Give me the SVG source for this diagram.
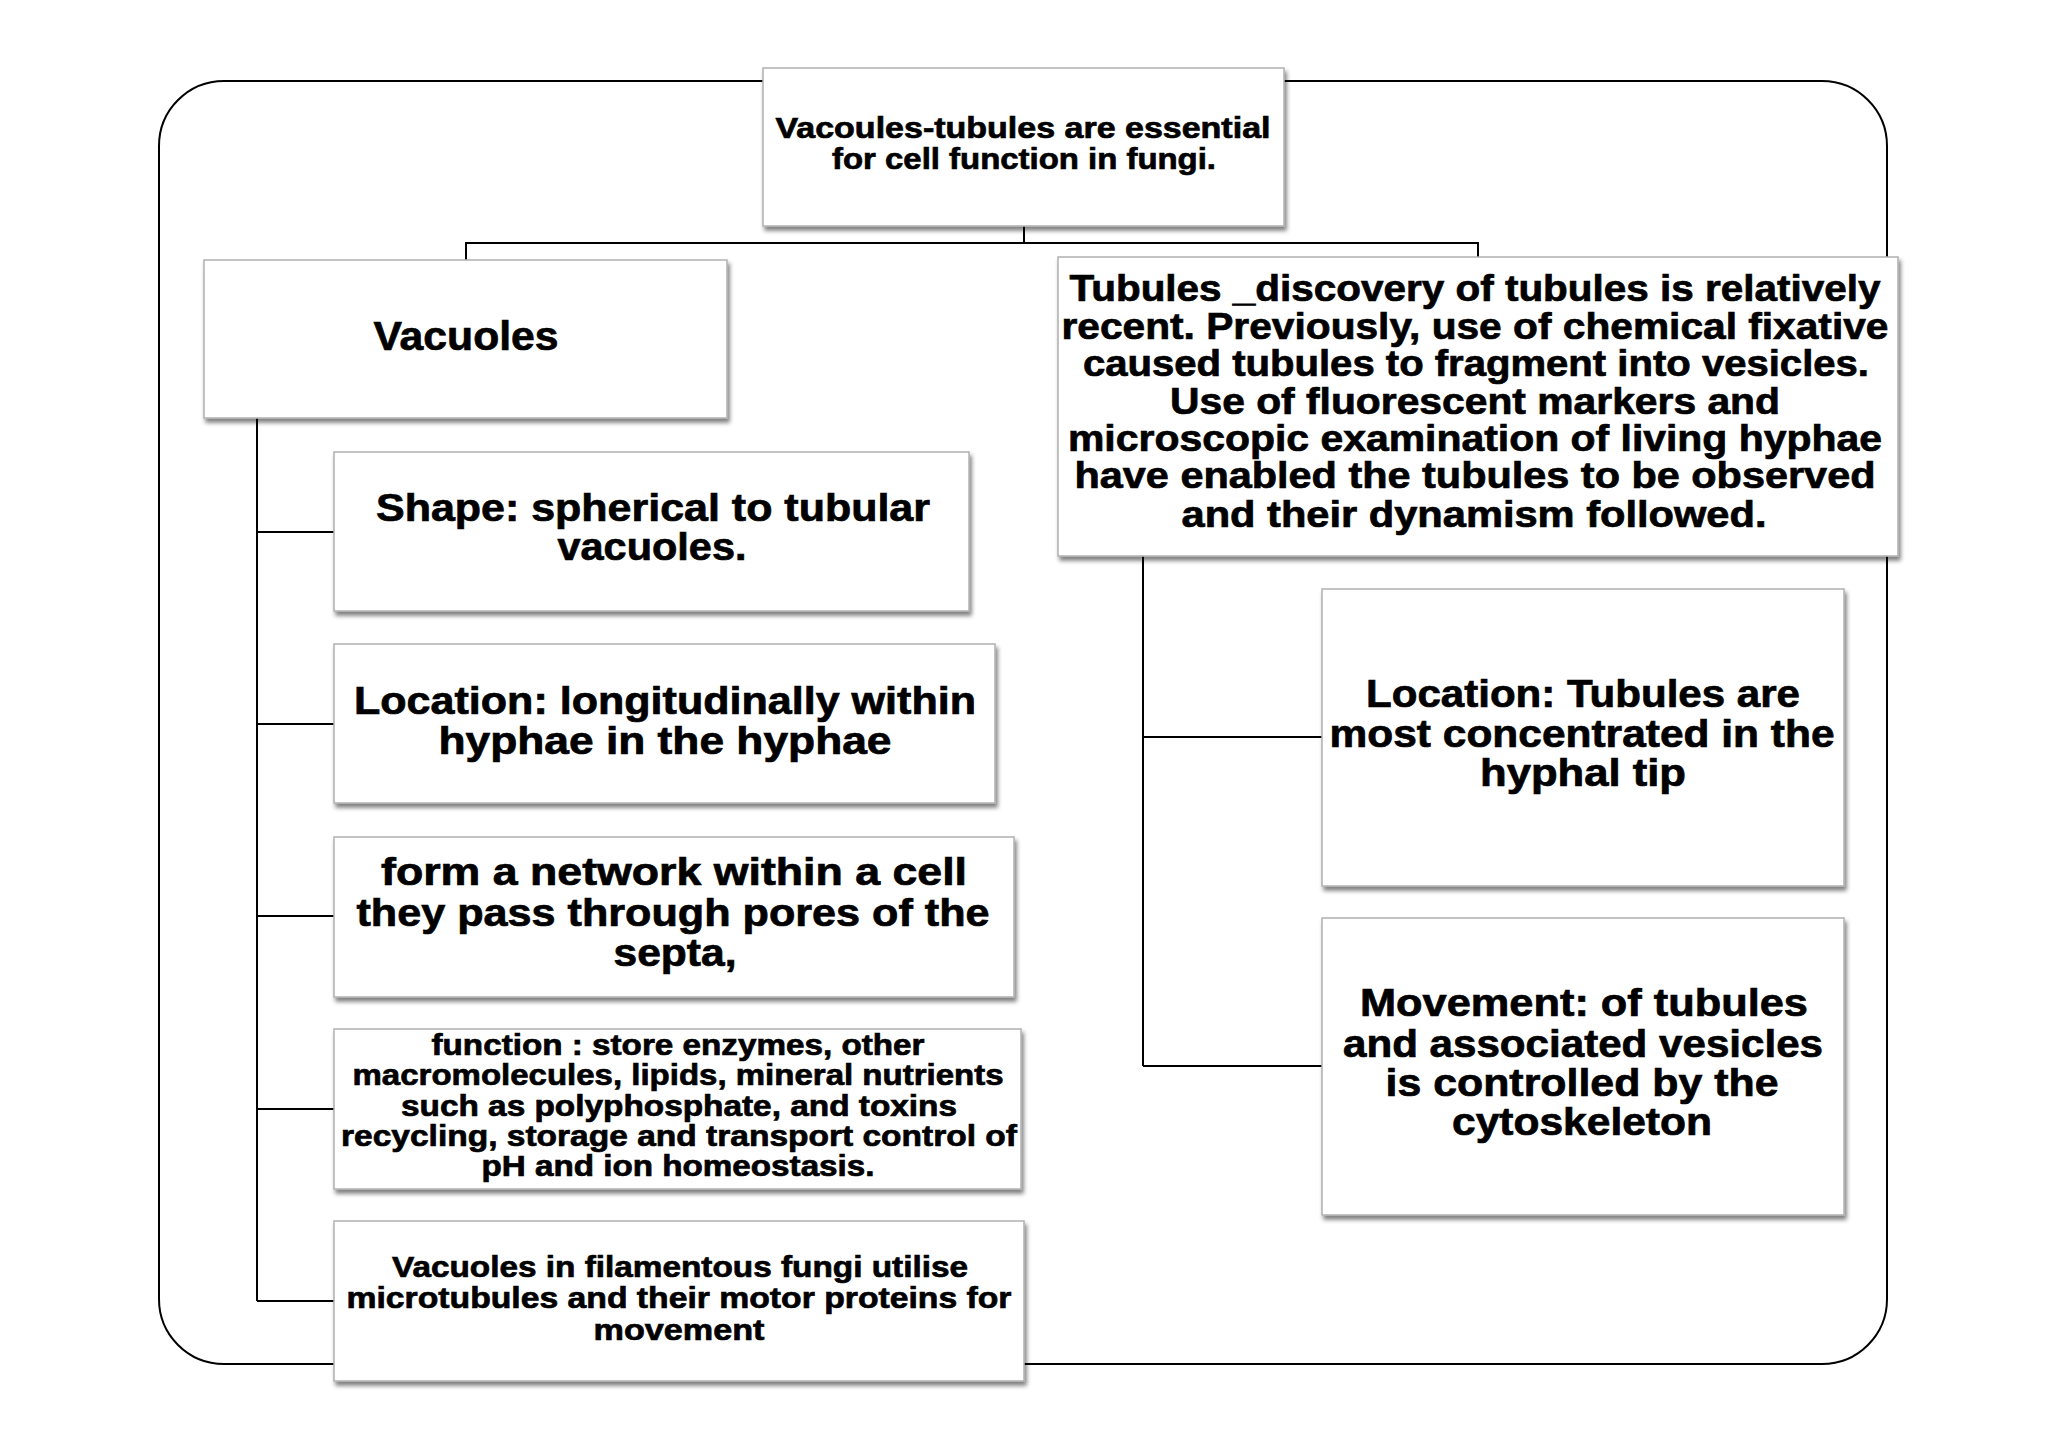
<svg xmlns="http://www.w3.org/2000/svg" width="2048" height="1448" viewBox="0 0 2048 1448">
<defs>
<filter id="sh" x="-5%" y="-5%" width="110%" height="120%">
<feDropShadow dx="2" dy="4" stdDeviation="2" flood-color="#000" flood-opacity="0.5"/>
</filter>
</defs>
<style>
.box{fill:#fff;stroke:#b0b0b0;stroke-width:1.5;filter:url(#sh)}
.ln{fill:none;stroke:#000;stroke-width:2}
text{font-family:"Liberation Sans",Arial,sans-serif;font-weight:bold;fill:#000;stroke:#000;stroke-width:0.7;text-anchor:middle}
</style>
<rect width="2048" height="1448" fill="#fff"/>
<rect x="159" y="81" width="1728" height="1283" rx="65" ry="65" class="ln"/>
<g id="connectors">
<polyline class="ln" points="1024,226 1024,243"/>
<polyline class="ln" points="466,260 466,243 1478,243 1478,257"/>
<polyline class="ln" points="257,418 257,1301"/>
<polyline class="ln" points="257,532 334,532"/>
<polyline class="ln" points="257,724 334,724"/>
<polyline class="ln" points="257,916 334,916"/>
<polyline class="ln" points="257,1109 334,1109"/>
<polyline class="ln" points="257,1301 334,1301"/>
<polyline class="ln" points="1143,556 1143,1066"/>
<polyline class="ln" points="1143,737 1322,737"/>
<polyline class="ln" points="1143,1066 1322,1066"/>
</g>
<g id="root">
<rect class="box" x="763" y="68" width="521" height="158"/>
<text font-size="29"><tspan x="1023" y="138" textLength="495" lengthAdjust="spacingAndGlyphs">Vacoules-tubules  are essential</tspan><tspan x="1024" y="169" textLength="384" lengthAdjust="spacingAndGlyphs">for cell function in fungi.</tspan></text>
</g>
<g id="vacuoles">
<rect class="box" x="204" y="260" width="523" height="158"/>
<text font-size="40" x="466" y="350" textLength="185" lengthAdjust="spacingAndGlyphs">Vacuoles</text>
</g>
<g id="tubules">
<rect class="box" x="1058" y="257" width="840" height="299"/>
<text font-size="36">
<tspan x="1480" y="301" textLength="811" lengthAdjust="spacingAndGlyphs">Tubules _discovery of tubules is relatively</tspan>
<tspan x="1480" y="339" textLength="827" lengthAdjust="spacingAndGlyphs">recent. Previously, use of chemical fixative</tspan>
<tspan x="1481" y="376" textLength="786" lengthAdjust="spacingAndGlyphs">caused tubules to fragment into vesicles.</tspan>
<tspan x="1480" y="414" textLength="610" lengthAdjust="spacingAndGlyphs">Use of fluorescent markers and</tspan>
<tspan x="1480" y="451" textLength="814" lengthAdjust="spacingAndGlyphs">microscopic examination of living hyphae</tspan>
<tspan x="1480" y="488" textLength="801" lengthAdjust="spacingAndGlyphs">have enabled the tubules to be observed</tspan>
<tspan x="1474" y="527" textLength="585" lengthAdjust="spacingAndGlyphs">and their dynamism followed.</tspan>
</text>
</g>
<g id="shape">
<rect class="box" x="334" y="452" width="635" height="159"/>
<text font-size="38"><tspan x="653" y="521" textLength="554" lengthAdjust="spacingAndGlyphs">Shape: spherical to tubular</tspan><tspan x="652" y="560" textLength="189" lengthAdjust="spacingAndGlyphs">vacuoles.</tspan></text>
</g>
<g id="location-left">
<rect class="box" x="334" y="644" width="661" height="159"/>
<text font-size="38"><tspan x="665" y="714" textLength="622" lengthAdjust="spacingAndGlyphs">Location: longitudinally within</tspan><tspan x="665" y="754" textLength="453" lengthAdjust="spacingAndGlyphs">hyphae in the hyphae</tspan></text>
</g>
<g id="network">
<rect class="box" x="334" y="837" width="680" height="160"/>
<text font-size="38"><tspan x="674" y="885" textLength="586" lengthAdjust="spacingAndGlyphs">form a network within a cell</tspan><tspan x="673" y="926" textLength="633" lengthAdjust="spacingAndGlyphs">they pass through pores of the</tspan><tspan x="675" y="966" textLength="123" lengthAdjust="spacingAndGlyphs">septa,</tspan></text>
</g>
<g id="function">
<rect class="box" x="334" y="1029" width="687" height="160"/>
<text font-size="29"><tspan x="678" y="1055" textLength="493" lengthAdjust="spacingAndGlyphs">function : store enzymes, other</tspan><tspan x="678" y="1085" textLength="651" lengthAdjust="spacingAndGlyphs">macromolecules, lipids, mineral nutrients</tspan><tspan x="679" y="1116" textLength="556" lengthAdjust="spacingAndGlyphs">such as polyphosphate, and toxins</tspan><tspan x="679" y="1146" textLength="676" lengthAdjust="spacingAndGlyphs">recycling, storage and transport control of</tspan><tspan x="678" y="1176" textLength="393" lengthAdjust="spacingAndGlyphs">pH and ion homeostasis.</tspan></text>
</g>
<g id="movement-left">
<rect class="box" x="334" y="1221" width="690" height="160"/>
<text font-size="30"><tspan x="680" y="1277" textLength="576" lengthAdjust="spacingAndGlyphs">Vacuoles in filamentous fungi utilise</tspan><tspan x="679" y="1308" textLength="665" lengthAdjust="spacingAndGlyphs">microtubules and their motor proteins for</tspan><tspan x="679" y="1340" textLength="171" lengthAdjust="spacingAndGlyphs">movement</tspan></text>
</g>
<g id="location-right">
<rect class="box" x="1322" y="589" width="522" height="297"/>
<text font-size="38"><tspan x="1583" y="707" textLength="434" lengthAdjust="spacingAndGlyphs">Location: Tubules are</tspan><tspan x="1582" y="747" textLength="505" lengthAdjust="spacingAndGlyphs">most concentrated in the</tspan><tspan x="1583" y="786" textLength="206" lengthAdjust="spacingAndGlyphs">hyphal tip</tspan></text>
</g>
<g id="movement-right">
<rect class="box" x="1322" y="918" width="522" height="297"/>
<text font-size="38"><tspan x="1584" y="1016" textLength="448" lengthAdjust="spacingAndGlyphs">Movement: of tubules</tspan><tspan x="1583" y="1057" textLength="480" lengthAdjust="spacingAndGlyphs">and associated vesicles</tspan><tspan x="1582" y="1096" textLength="393" lengthAdjust="spacingAndGlyphs">is controlled by the</tspan><tspan x="1582" y="1135" textLength="260" lengthAdjust="spacingAndGlyphs">cytoskeleton</tspan></text>
</g>
</svg>
